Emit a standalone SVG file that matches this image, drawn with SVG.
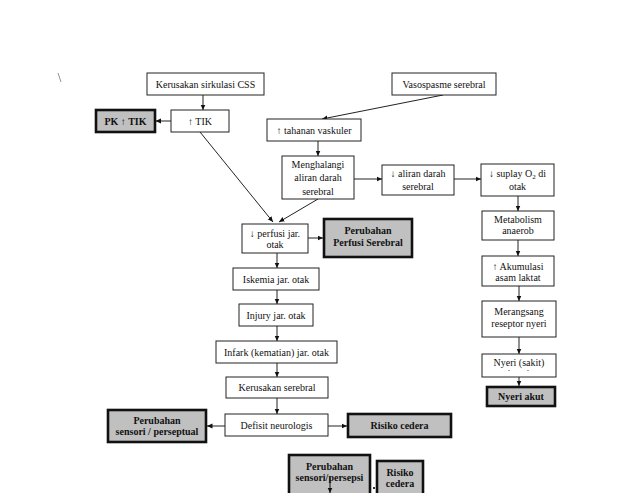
<svg xmlns="http://www.w3.org/2000/svg" width="638" height="493" viewBox="0 0 638 493">
<style>
.b{fill:#fff;stroke:#222;stroke-width:1}
.g{fill:#c0c0c0;stroke:#111;stroke-width:2.6}
text{font-family:"Liberation Serif","Times New Roman",serif;font-size:10px;fill:#111;text-anchor:middle}
.t{font-weight:bold}
.c line{stroke:#222;stroke-width:1;marker-end:url(#ah)}
</style>
<defs>
<marker id="ah" markerUnits="userSpaceOnUse" markerWidth="6" markerHeight="6" refX="5.5" refY="3" orient="auto">
<path d="M0,0.5 L5.5,3 L0,5.5 z" fill="#111"/>
</marker>
</defs>
<rect width="638" height="493" fill="#fff"/>
<line x1="58" y1="73" x2="61" y2="82" stroke="#777" stroke-width="0.8"/>

<g class="c" id="connectors">
<line x1="203" y1="95" x2="203" y2="110"/>
<line x1="171" y1="121" x2="155.5" y2="121"/>
<line x1="200" y1="132" x2="273" y2="222"/>
<line x1="443" y1="95" x2="322" y2="119"/>
<line x1="318" y1="141" x2="318" y2="156"/>
<line x1="318" y1="199" x2="279" y2="222"/>
<line x1="354" y1="179" x2="382" y2="179"/>
<line x1="454" y1="179" x2="481" y2="179"/>
<line x1="518" y1="196" x2="518" y2="211"/>
<line x1="518" y1="240" x2="518" y2="256"/>
<line x1="519" y1="286" x2="519" y2="301"/>
<line x1="519" y1="337" x2="519" y2="354"/>
<line x1="519" y1="377" x2="519" y2="386"/>
<line x1="308" y1="238" x2="323" y2="238"/>
<line x1="277" y1="253" x2="277" y2="268"/>
<line x1="277" y1="290" x2="277" y2="304"/>
<line x1="277" y1="326" x2="277" y2="341"/>
<line x1="277" y1="363" x2="277" y2="377"/>
<line x1="277" y1="398" x2="277" y2="414"/>
<line x1="225" y1="426" x2="207" y2="426"/>
<line x1="328" y1="426" x2="347" y2="426"/>
</g>

<g id="n_kerusakan_css"><rect class="b" x="147" y="73" width="117" height="22"/><text x="205.5" y="87.5">Kerusakan sirkulasi CSS</text></g>
<g id="n_pk_tik"><rect class="g" x="96" y="110" width="59" height="22"/><text class="t" x="125.5" y="124.5">PK ↑ TIK</text></g>
<g id="n_tik"><rect class="b" x="171" y="110" width="58" height="22"/><text x="200" y="124.5">↑ TIK</text></g>
<g id="n_vasospasme"><rect class="b" x="392" y="73" width="104" height="22"/><text x="444" y="87.5">Vasospasme serebral</text></g>
<g id="n_tahanan"><rect class="b" x="267" y="119" width="94" height="22"/><text x="314" y="133.5">↑ tahanan vaskuler</text></g>
<g id="n_menghalangi"><rect class="b" x="282" y="156" width="72" height="43"/><text x="318" y="167.5">Menghalangi</text><text x="318" y="181">aliran darah</text><text x="318" y="194.5">serebral</text></g>
<g id="n_aliran"><rect class="b" x="382" y="165" width="72" height="30"/><text x="418" y="177">↓ aliran darah</text><text x="418" y="189.5">serebral</text></g>
<g id="n_suplay"><rect class="b" x="481" y="164" width="73" height="32"/><text x="517.5" y="177">↓ suplay O<tspan font-size="7" dy="2">2</tspan><tspan dy="-2"> di</tspan></text><text x="517.5" y="190">otak</text></g>
<g id="n_metabolism"><rect class="b" x="482" y="211" width="72" height="29"/><text x="518" y="223">Metabolism</text><text x="518" y="234">anaerob</text></g>
<g id="n_akumulasi"><rect class="b" x="482" y="256" width="72" height="30"/><text x="518" y="269.5">↑ Akumulasi</text><text x="518" y="280.5">asam laktat</text></g>
<g id="n_merangsang"><rect class="b" x="482" y="301" width="74" height="36"/><text x="519" y="314.5">Merangsang</text><text x="519" y="326.5">reseptor nyeri</text></g>
<g id="n_nyeri"><rect class="b" x="482" y="354" width="74" height="23"/><text x="519" y="365.5">Nyeri (sakit)</text><circle cx="509" cy="370.5" r="0.6" fill="#333"/><circle cx="528" cy="370.5" r="0.6" fill="#333"/></g>
<g id="n_nyeri_akut"><rect class="g" x="487" y="387" width="68" height="19"/><text class="t" x="521" y="400">Nyeri akut</text></g>
<g id="n_perfusi"><rect class="b" x="242" y="224" width="66" height="29"/><text x="275" y="236.5">↓ perfusi jar.</text><text x="275" y="248">otak</text></g>
<g id="n_perubahan_perfusi"><rect class="g" x="324" y="219" width="88" height="38"/><text class="t" x="368" y="233.5">Perubahan</text><text class="t" x="368" y="245.5">Perfusi Serebral</text></g>
<g id="n_iskemia"><rect class="b" x="233" y="268" width="86" height="22"/><text x="276" y="282.5">Iskemia jar. otak</text></g>
<g id="n_injury"><rect class="b" x="239" y="304" width="74" height="22"/><text x="276" y="318.5">Injury jar. otak</text></g>
<g id="n_infark"><rect class="b" x="216" y="341" width="121" height="22"/><text x="276.5" y="355.5">Infark (kematian) jar. otak</text></g>
<g id="n_kerusakan_serebral"><rect class="b" x="226" y="377" width="102" height="21"/><text x="277" y="391">Kerusakan serebral</text></g>
<g id="n_defisit"><rect class="b" x="225" y="414" width="103" height="22"/><text x="276.5" y="428.5">Defisit neurologis</text></g>
<g id="n_sensori_perseptual"><rect class="g" x="108" y="410" width="98" height="32"/><text class="t" x="157" y="423.5">Perubahan</text><text class="t" x="157" y="435">sensori / perseptual</text></g>
<g id="n_risiko"><rect class="g" x="348" y="414" width="103" height="23"/><text class="t" x="399.5" y="429">Risiko cedera</text></g>
<g id="n_sensori_persepsi"><rect class="g" x="289" y="455" width="81" height="42"/><text class="t" x="329.5" y="469.5">Perubahan</text><text class="t" x="329.5" y="480.5">sensori/persepsi</text></g>
<g id="n_risiko2"><rect class="g" x="377" y="461" width="46" height="36"/><text class="t" x="400" y="475.5">Risiko</text><text class="t" x="400" y="487">cedera</text></g>
<line x1="330" y1="477" x2="330" y2="493" stroke="#111" stroke-width="1" marker-end="url(#ah)"/>
<rect x="373" y="487" width="2" height="2" fill="#333"/>
</svg>
